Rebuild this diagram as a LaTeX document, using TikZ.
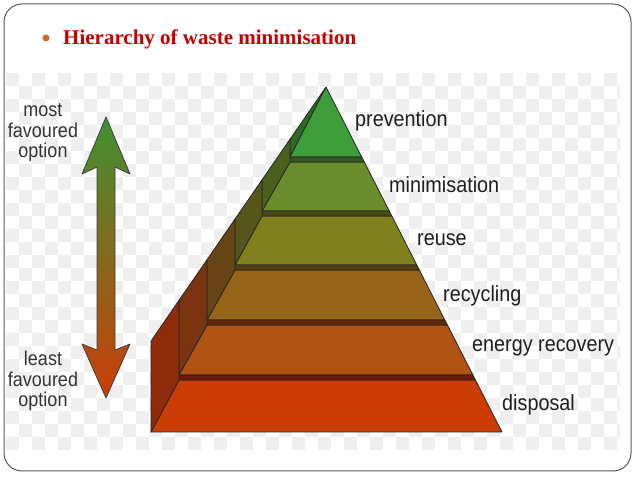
\documentclass[tikz,border=0pt]{standalone}
\usepackage{fontspec}
\setmainfont{Liberation Serif}
\setsansfont{Liberation Sans}
\newfontfamily\lblfam[FakeStretch=0.9]{Liberation Sans}
\definecolor{titlered}{HTML}{C40000}
\definecolor{bulletc}{HTML}{D0682F}
\definecolor{prevF}{HTML}{3E9E3A}
\definecolor{prevW}{HTML}{2C6A26}
\definecolor{minF}{HTML}{6B8C2C}
\definecolor{minW}{HTML}{4C601E}
\definecolor{reuF}{HTML}{80801F}
\definecolor{reuW}{HTML}{57561A}
\definecolor{recF}{HTML}{976519}
\definecolor{recW}{HTML}{664414}
\definecolor{eneF}{HTML}{B05314}
\definecolor{eneW}{HTML}{7A3410}
\definecolor{disF}{HTML}{CC3D05}
\definecolor{disW}{HTML}{8E2C0A}
\definecolor{stripA}{HTML}{2F5A1C}
\definecolor{stripB}{HTML}{464A12}
\definecolor{stripC}{HTML}{55400F}
\definecolor{stripD}{HTML}{65280A}
\definecolor{stripE}{HTML}{6A1A06}
\definecolor{arrTop}{HTML}{3F9232}
\definecolor{arrMid}{HTML}{80661E}
\definecolor{arrBot}{HTML}{CC3E08}
\definecolor{chk}{HTML}{EFEFEF}
\begin{document}
\begin{tikzpicture}[x=1pt,y=-1pt,
  slab/.style={draw=black!85, line width=0.8pt, line join=round},
  lbl/.style={font=\lblfam\fontsize{22pt}{26pt}\selectfont, text=black!88, inner sep=0pt, anchor=base west},
  side/.style={font=\lblfam\fontsize{20pt}{24pt}\selectfont, text=black!80, inner sep=0pt, anchor=base}]
\useasboundingbox (0,0) rectangle (638,478);
\fill[white] (0,0) rectangle (638,478);
% faint checkerboard background of the pasted picture
\begin{scope}
\clip (6,73) rectangle (620,450);
\foreach \i in {0,...,47}{
  \foreach \j in {0,...,14}{
    \pgfmathsetmacro\yy{73+13*(2*\j+mod(\i,2))}
    \fill[chk] ({6+13*\i},\yy) rectangle ++(13,13);
  }
}
\end{scope}
% slide frame
\draw[black!65, line width=1pt, rounded corners=18pt] (4,4) rectangle (631,471);
% title
\node[circle, fill=bulletc, inner sep=0pt, minimum size=7pt] (bullet) at (46,38) {};
\node[font=\bfseries\fontsize{21pt}{25pt}\selectfont, text=titlered, inner sep=0pt, anchor=base west] (title) at (63,45) {Hierarchy of waste minimisation};
% pyramid: prevention
\filldraw[slab, fill=prevW] (290,157) -- (290,139.3) -- (326,87) -- cycle;
\filldraw[slab, fill=prevF] (326,87) -- (361.7,157) -- (290,157) -- cycle;
% minimisation
\filldraw[slab, fill=minF] (290,162) -- (364.25,162) -- (389.24,211) -- (262,211) -- cycle;
\filldraw[slab, fill=stripA] (290,157) -- (361.7,157) -- (364.25,162) -- (290,162) -- cycle;
\filldraw[slab, fill=minW] (262,211) -- (262,179.9) -- (290,139.3) -- (290,162) -- cycle;
% reuse
\filldraw[slab, fill=reuF] (262,216) -- (391.8,216) -- (416.8,265) -- (235,265) -- cycle;
\filldraw[slab, fill=stripB] (262,211) -- (389.24,211) -- (391.8,216) -- (262,216) -- cycle;
\filldraw[slab, fill=reuW] (235,265) -- (235,219.1) -- (262,179.9) -- (262,216) -- cycle;
% recycling
\filldraw[slab, fill=recF] (235,270) -- (419.3,270) -- (444.8,320) -- (207,320) -- cycle;
\filldraw[slab, fill=stripC] (235,265) -- (416.8,265) -- (419.3,270) -- (235,270) -- cycle;
\filldraw[slab, fill=recW] (207,320) -- (207,259.8) -- (235,219.1) -- (235,270) -- cycle;
% energy recovery
\filldraw[slab, fill=eneF] (207,325) -- (447.4,325) -- (472.9,375) -- (179,375) -- cycle;
\filldraw[slab, fill=stripD] (207,320) -- (444.8,320) -- (447.4,325) -- (207,325) -- cycle;
\filldraw[slab, fill=eneW] (179,375) -- (179,300.4) -- (207,259.8) -- (207,325) -- cycle;
% disposal
\filldraw[slab, fill=disF] (179,380) -- (475.4,380) -- (501.95,432) -- (151,432) -- cycle;
\filldraw[slab, fill=stripE] (179,375) -- (472.9,375) -- (475.4,380) -- (179,380) -- cycle;
\filldraw[slab, fill=disW] (151,432) -- (151,341.1) -- (179,300.4) -- (179,380) -- cycle;
% labels
\node[lbl] (lprev) at (355,127) {prevention};
\node[lbl] (lmin) at (389,193) {minimisation};
\node[lbl] (lreu) at (417,246) {reuse};
\node[lbl] (lrec) at (443,302) {recycling};
\node[lbl] (lene) at (472,352) {energy recovery};
\node[lbl] (ldis) at (502,411) {disposal};
% double arrow
\shade[top color=arrTop, middle color=arrMid, bottom color=arrBot, draw=black!75, line width=0.8pt, line join=round]
  (106,117) -- (130,174) -- (115,167) -- (115,350) -- (130,344) -- (106,398)
  -- (82,344) -- (97,350) -- (97,167) -- (82,174) -- cycle;
% side texts
\node[side] (smost) at (43,117) {most};
\node[side] (sfav1) at (43,138) {favoured};
\node[side] (sopt1) at (43,158) {option};
\node[side] (sleast) at (43,366) {least};
\node[side] (sfav2) at (43,387) {favoured};
\node[side] (sopt2) at (43,407) {option};
\end{tikzpicture}
\end{document}
